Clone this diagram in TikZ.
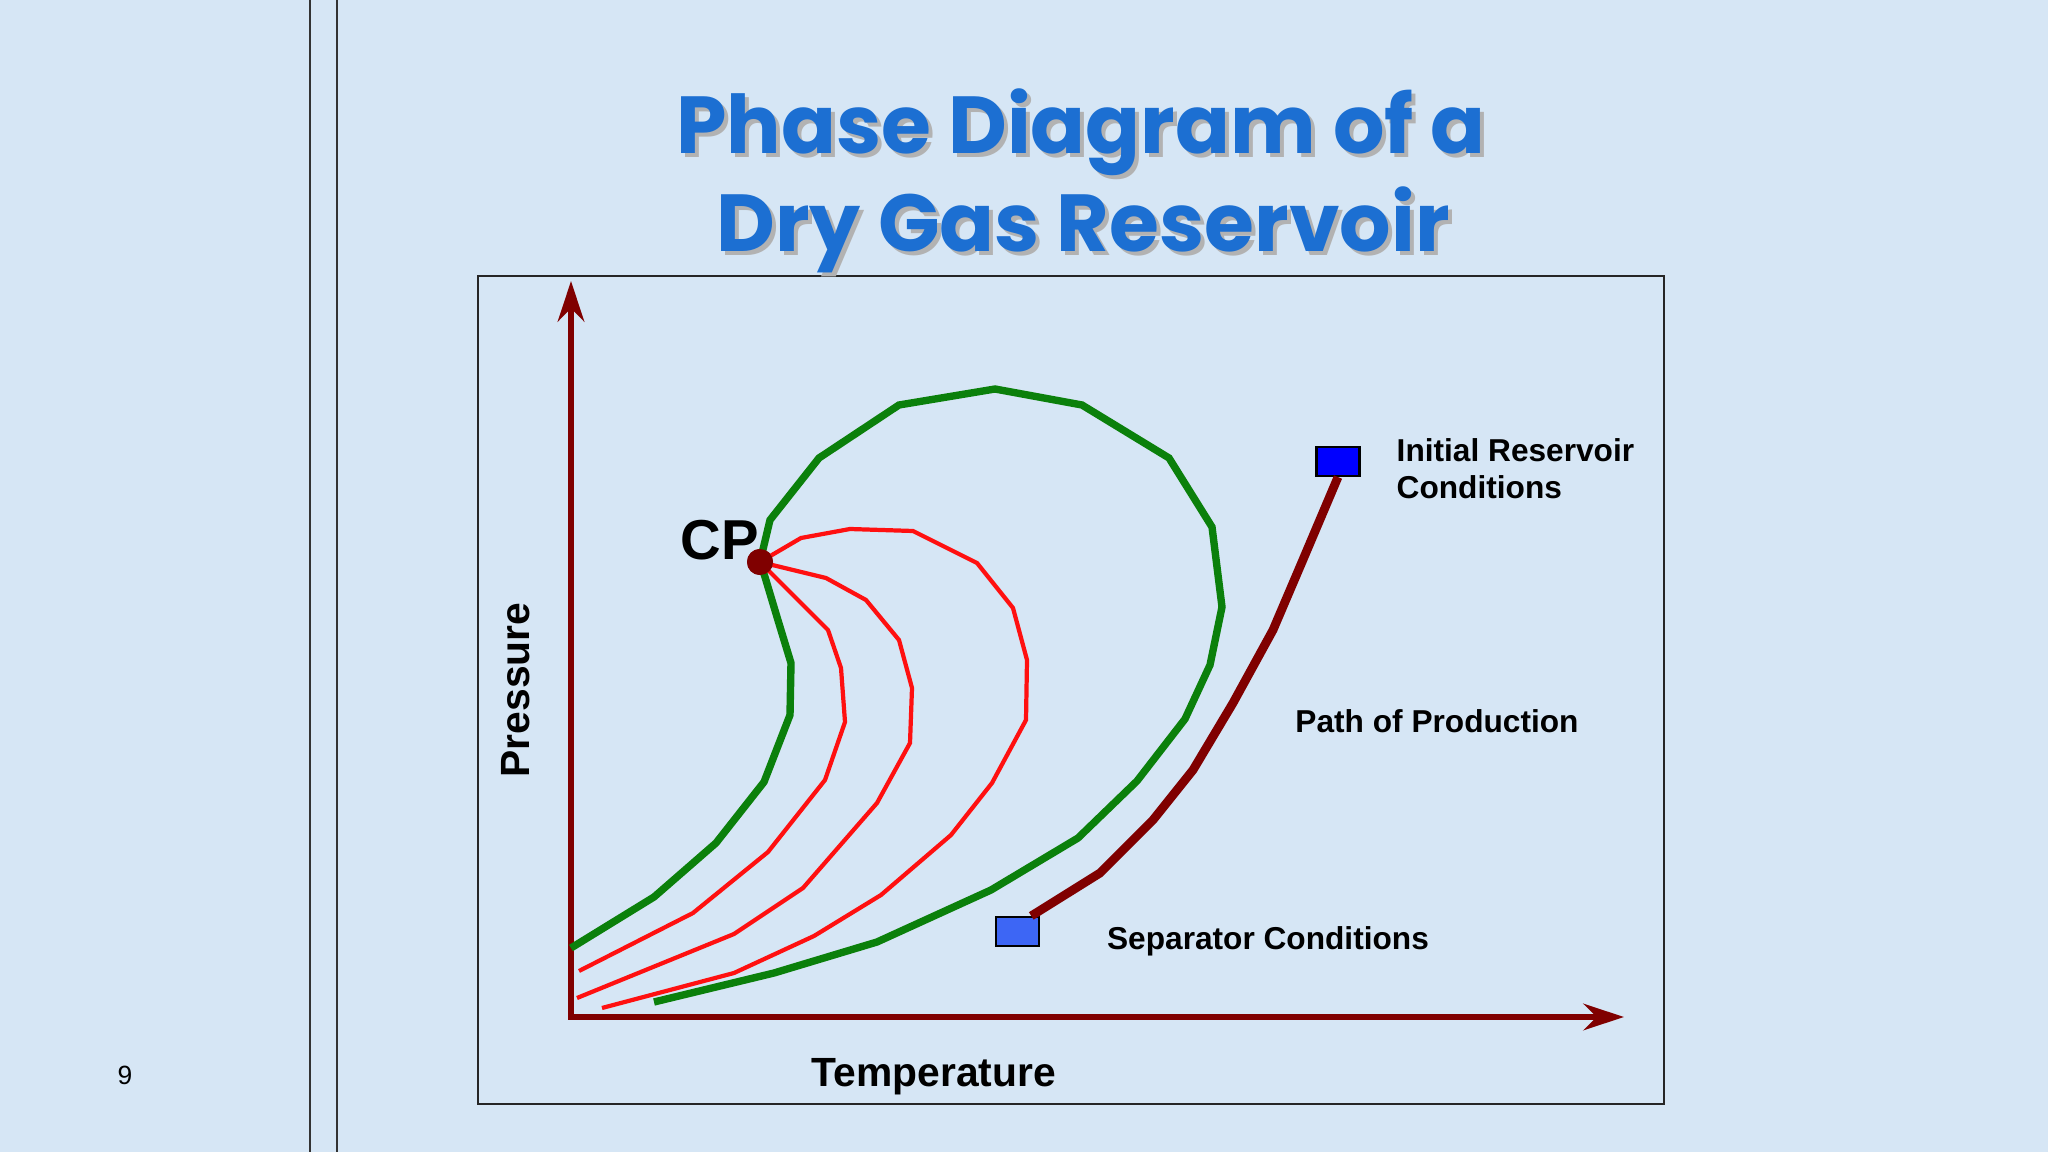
\documentclass[tikz,border=0pt]{standalone}
\usepackage{fontspec}
\setmainfont{Liberation Sans}
\newfontfamily\titlefont{Poppins}
\usetikzlibrary{arrows.meta,positioning}
\definecolor{slidebg}{HTML}{D6E6F5}
\definecolor{titleblue}{HTML}{1C6FD2}
\definecolor{envgreen}{HTML}{0B800B}
\definecolor{qualred}{HTML}{FF1010}
\definecolor{darkred}{HTML}{800000}
\definecolor{initblue}{HTML}{0000FF}
\definecolor{sepblue}{HTML}{3D66F5}

\begin{document}
\begin{tikzpicture}[x=0.01cm, y=-0.01cm,
    envelope/.style={envgreen, line width=2.1pt},
    quality/.style={qualred, line width=1.2pt},
    axisline/.style={darkred, line width=1.7pt,
                     {Stealth[length=11.5pt,width=7.5pt]}-{Stealth[length=11.5pt,width=7.5pt]}},
    prodpath/.style={darkred, line width=2.5pt},
    condbox/.style={draw=black, line width=0.6pt, minimum width=0.43cm,
                    minimum height=0.29cm, inner sep=0pt},
    lbl/.style={font=\bfseries\fontsize{9}{10.5}\selectfont, align=left, inner sep=0pt},
    axislbl/.style={font=\bfseries\fontsize{11.6}{13}\selectfont, inner sep=0pt},
    ttl/.style={font=\titlefont\bfseries\fontsize{23}{27}\selectfont, inner sep=0pt, anchor=base}
  ]
  \useasboundingbox (0,0) rectangle (2048,1152);
  \fill[slidebg] (0,0) rectangle (2048,1152);
  \draw[black!80, line width=0.5pt] (310,-2) rectangle (337,1154);
  \draw[black!85, line width=0.5pt] (478,276) rectangle (1664,1104);

  \node[ttl, black!30] (title1s) at (1085,158) {Phase Diagram of a};
  \node[ttl, titleblue] (title1) at (1081,154) {Phase Diagram of a};
  \node[ttl, black!30] (title2s) at (1087,256) {Dry Gas Reservoir};
  \node[ttl, titleblue] (title2) at (1083,252) {Dry Gas Reservoir};

  \coordinate (ytop) at (571,281);
  \coordinate (xend) at (1624,1017);
  \draw[axisline] (ytop) |- (xend);

  \node[circle, fill=darkred, minimum size=0.26cm, inner sep=0pt] (cp) at (760,562) {};

  \draw[envelope] (571,948) -- (654,897) -- (716,843) -- (764,782) -- (790,715)
    -- (791,663) -- (777,617) -- (765,577) -- (cp.center) -- (770,520) -- (819,458)
    -- (899,405) -- (995,389) -- (1082,405) -- (1169,458) -- (1212,527) -- (1222,607)
    -- (1210,665) -- (1185,719) -- (1137,781) -- (1078,838) -- (991,890) -- (877,942)
    -- (774,973) -- (654,1002);
  \draw[quality] (cp.center) -- (801,538) -- (850,529) -- (913,531) -- (977,563)
    -- (1013,608) -- (1027,660) -- (1026,720) -- (992,783) -- (951,835) -- (881,895)
    -- (814,936) -- (734,973) -- (602,1008);
  \draw[quality] (cp.center) -- (826,578) -- (866,600) -- (899,640) -- (912,688)
    -- (910,743) -- (877,803) -- (803,888) -- (734,934) -- (577,998);
  \draw[quality] (cp.center) -- (828,630) -- (841,668) -- (845,722) -- (825,780)
    -- (768,852) -- (693,913) -- (579,971);
  \node[circle, fill=darkred, minimum size=0.26cm, inner sep=0pt] at (cp) {};

  \node[font=\bfseries\fontsize{16}{18}\selectfont, inner sep=0pt] (cplabel) at (720,540) {CP};

  \node[condbox, fill=initblue] (init) at (1338,461.5) {};
  \node[condbox, fill=sepblue] (sep) at (1017.5,931.5) {};
  \draw[prodpath] (init.south) -- (1302,562) -- (1273,630) -- (1233,703) -- (1193,770)
    -- (1153,820) -- (1100,873) -- ([xshift=-2.5pt]sep.north east);

  \node[lbl, anchor=north west] (initlabel) at (1396,438) {Initial Reservoir\\Conditions};
  \node[lbl] (pathlabel) at (1437,721) {Path of Production};
  \node[lbl, anchor=base] (seplabel) at (1268,949) {Separator Conditions};

  \node[axislbl, anchor=base] (templabel) at (934,1086) {Temperature};
  \node[axislbl, rotate=90] (preslabel) at (516,690) {Pressure};

  \node[font=\fontsize{7.5}{9}\selectfont, inner sep=0pt] (pagenum) at (125,1075) {9};
\end{tikzpicture}
\end{document}
